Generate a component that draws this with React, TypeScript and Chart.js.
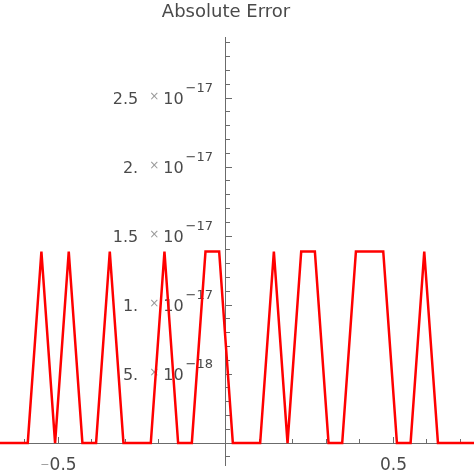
import { useEffect, useRef } from 'react'
import { Chart, registerables } from 'chart.js'

Chart.register(...registerables)

// sample points of the plotted error curve
const xSamples = [
  -0.7143, -0.6735, -0.6327, -0.5918, -0.551, -0.5102, -0.4694, -0.4286,
  -0.3878, -0.3469, -0.3061, -0.2653, -0.2245, -0.1837, -0.1429, -0.102,
  -0.0612, -0.0204, 0.0204, 0.0612, 0.102, 0.1429, 0.1837, 0.2245, 0.2653,
  0.3061, 0.3469, 0.3878, 0.4286, 0.4694, 0.5102, 0.551, 0.5918, 0.6327,
  0.6735, 0.7143, 0.7551,
]

// absolute error at each sample
const absError = [
  0, 0, 0, 0, 1.3878e-17, 0, 1.3878e-17, 0,
  0, 1.3878e-17, 0, 0, 0, 1.3878e-17, 0, 0,
  1.3878e-17, 1.3878e-17, 0, 0, 0, 1.3878e-17, 0, 1.3878e-17, 1.3878e-17,
  0, 0, 1.3878e-17, 1.3878e-17, 1.3878e-17, 0, 0, 1.3878e-17, 0,
  0, 0, 0,
]

// visible plot range
const xMin = -0.6746
const xMax = 0.7403
const yMin = -1.59e-18
const yMax = 2.942e-17

// ticks and labels
const xMajorTicks = [-0.5, 0.5]
const xTickLabels = ['0.5', '0.5']
const xTickSigns = ['\u2212', '']
const yMajorTicks = [5e-18, 1e-17, 1.5e-17, 2e-17, 2.5e-17]
const yTickMantissas = ['5.', '1.', '1.5', '2.', '2.5']
const yTickExponents = ['\u221218', '\u221217', '\u221217', '\u221217', '\u221217']

const title = 'Absolute Error'

const FONT = '"DejaVu Sans", sans-serif'
const AXIS = '#6b6b6b'
const TEXT = '#4a4a4a'
const FAINT = '#9a9a9a'

// Mathematica style labels: mantissa, small "×", 10 with raised exponent
const mmaLabels = {
  id: 'mmaLabels',
  beforeDatasetsDraw(chart) {
    const { ctx } = chart
    const xs = chart.scales.x
    const ys = chart.scales.y
    const x0 = xs.getPixelForValue(0)
    const y0 = ys.getPixelForValue(0)
    ctx.save()
    ctx.textBaseline = 'alphabetic'

    yMajorTicks.forEach((v, i) => {
      const py = ys.getPixelForValue(v)
      const base = py + 6
      const expRight = x0 - 13
      ctx.textAlign = 'right'
      ctx.fillStyle = TEXT
      ctx.font = `13px ${FONT}`
      ctx.fillText(yTickExponents[i], expRight, base - 12)
      const expW = ctx.measureText(yTickExponents[i]).width
      const tenRight = expRight - expW - 2
      ctx.font = `16px ${FONT}`
      ctx.fillText('10', tenRight, base)
      const tenW = ctx.measureText('10').width
      const timesX = tenRight - tenW - 9
      ctx.fillText(yTickMantissas[i], timesX - 16, base)
      ctx.textAlign = 'center'
      ctx.textBaseline = 'middle'
      ctx.fillStyle = FAINT
      ctx.font = `12px ${FONT}`
      ctx.fillText('\u00d7', timesX, py - 1)
      ctx.textBaseline = 'alphabetic'
    })

    xMajorTicks.forEach((v, i) => {
      const px = xs.getPixelForValue(v)
      const base = y0 + 27
      ctx.font = `17px ${FONT}`
      const w = ctx.measureText(xTickLabels[i]).width
      ctx.font = `11px ${FONT}`
      const sw = xTickSigns[i] ? ctx.measureText(xTickSigns[i]).width : 0
      const left = px - (w + sw) / 2
      ctx.textAlign = 'left'
      if (sw) {
        ctx.fillStyle = FAINT
        ctx.fillText(xTickSigns[i], left, base - 2)
      }
      ctx.font = `17px ${FONT}`
      ctx.fillStyle = TEXT
      ctx.fillText(xTickLabels[i], left + sw, base)
    })

    ctx.textAlign = 'center'
    ctx.font = `18px ${FONT}`
    ctx.fillStyle = TEXT
    ctx.fillText(title, x0, 17)
    ctx.restore()
  },
}

const App = () => {
  const canvasRef = useRef<HTMLCanvasElement | null>(null)

  useEffect(() => {
    const ctx = canvasRef.current?.getContext('2d')
    if (!ctx) return

    const chart = new Chart(ctx, {
      type: 'line',
      data: {
        datasets: [
          {
            label: title,
            data: xSamples.map((x, i) => ({ x, y: absError[i] })),
            borderColor: '#ff0000',
            borderWidth: 2.5,
            pointRadius: 0,
            tension: 0,
            fill: false,
          },
        ],
      },
      options: {
        animation: false,
        responsive: true,
        maintainAspectRatio: false,
        layout: {
          autoPadding: false,
          padding: { top: 37, bottom: 9, left: 0, right: 0 },
        },
        plugins: {
          legend: { display: false },
          title: { display: false },
          tooltip: { enabled: false },
        },
        scales: {
          x: {
            type: 'linear',
            position: { y: 0 },
            min: xMin,
            max: xMax,
            afterBuildTicks: (s) => {
              s.ticks = xMajorTicks.map((value) => ({ value }))
            },
            ticks: { display: false },
            grid: {
              drawOnChartArea: false,
              tickLength: -7,
              color: AXIS,
              tickColor: AXIS,
            },
            border: { color: AXIS, width: 1 },
          },
          xMinor: {
            type: 'linear',
            axis: 'x',
            position: { y: 0 },
            min: xMin,
            max: xMax,
            ticks: { display: false, stepSize: 0.1, includeBounds: false },
            grid: {
              drawOnChartArea: false,
              tickLength: -4,
              color: AXIS,
              tickColor: AXIS,
            },
            border: { display: false },
          },
          y: {
            type: 'linear',
            position: { x: 0 },
            min: yMin,
            max: yMax,
            afterBuildTicks: (s) => {
              s.ticks = yMajorTicks.map((value) => ({ value }))
            },
            ticks: { display: false },
            grid: {
              drawOnChartArea: false,
              tickLength: -7,
              color: AXIS,
              tickColor: AXIS,
            },
            border: { color: AXIS, width: 1 },
          },
          yMinor: {
            type: 'linear',
            axis: 'y',
            position: { x: 0 },
            min: yMin,
            max: yMax,
            ticks: { display: false, stepSize: 1e-18, includeBounds: false },
            grid: {
              drawOnChartArea: false,
              tickLength: -4,
              color: AXIS,
              tickColor: AXIS,
            },
            border: { display: false },
          },
        },
      },
      plugins: [mmaLabels],
    })

    return () => {
      chart.destroy()
    }
  }, [])

  return (
    <div style={{ position: 'absolute', left: 0, top: 0, width: 474, height: 474 }}>
      <canvas ref={canvasRef} />
    </div>
  )
}

export default App
